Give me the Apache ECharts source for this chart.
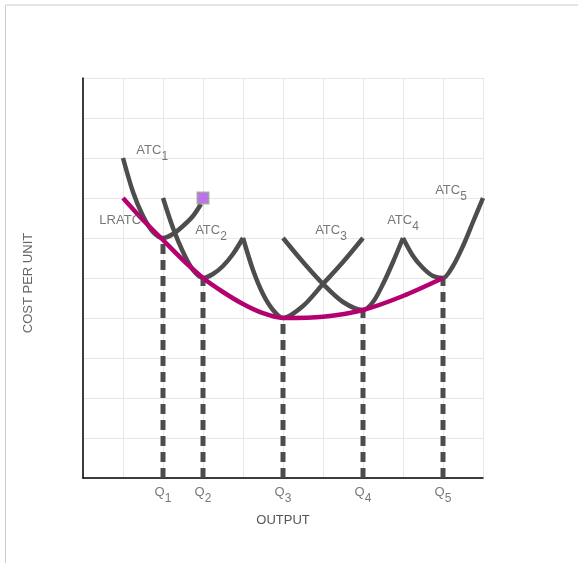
<!DOCTYPE html>
<html><head><meta charset="utf-8">
<script src="https://cdn.jsdelivr.net/npm/echarts@6/dist/echarts.min.js"></script>
<style>html,body{margin:0;padding:0;background:#fff}#c{width:578px;height:563px}</style>
</head><body><div id="c"></div>
<script>
// curves (x: output grid units, y: cost grid units)
const atc1 = [[1,8],[1.25,7.15],[1.5,6.55],[1.75,6.15],[2,6],[2.25,6.1],[2.5,6.3],[2.75,6.55],[2.95,6.85]];
const atc2 = [[2,7],[2.25,6.25],[2.5,5.65],[2.75,5.2],[3,5],[3.25,5.1],[3.5,5.3],[3.75,5.6],[4,6]];
const atc3 = [[4,6],[4.25,5.2],[4.5,4.6],[4.75,4.2],[5,4],[5.5,4.3],[6,4.85],[6.5,5.4],[7,6]];
const atc4 = [[5,6],[5.5,5.4],[6,4.85],[6.5,4.4],[7,4.2],[7.25,4.4],[7.5,4.85],[7.75,5.4],[8,6]];
const atc5 = [[8,6],[8.25,5.55],[8.5,5.25],[8.75,5.05],[9,5],[9.25,5.3],[9.5,5.8],[9.75,6.4],[10,7]];
const lratc = [[1,7],[1.5,6.45],[2,5.95],[2.5,5.45],[3,5],[3.5,4.65],[4,4.35],[4.5,4.12],[5,4],[6,4.03],[7,4.2],[8,4.55],[9,5]];
const qX = [2,3,5,7,9];
const qY = [6,5,4,4.2,5];
const qLabels = ['1','2','3','4','5'];
const marker = [[3,7]];
// curve labels: [x, y, name, subscript]
const curveLabels = [[1.73,8.2,'ATC','1'],[0.93,6.45,'LRATC',''],[3.2,6.2,'ATC','2'],[6.2,6.2,'ATC','3'],[8,6.45,'ATC','4'],[9.2,7.2,'ATC','5']];

const chart = echarts.init(document.getElementById('c'));
const txtRich = {
  a: {fontSize: 13, color: '#555', fontFamily: 'Arial'},
  s: {fontSize: 12, color: '#555', fontFamily: 'Arial', padding: [14, 0, 0, 0]}
};
const curve = d => ({type: 'line', data: d, smooth: 0.3, symbol: 'none', lineStyle: {color: '#4d4d4d', width: 4.5}, z: 3});
const dashes = qX.map((x, i) => ({
  type: 'line', data: [[x, 0], [x, qY[i]]], symbol: 'none', z: 2,
  lineStyle: {color: '#4d4d4d', width: 5, type: [10, 6]}
}));

chart.setOption({
  animation: false,
  grid: {left: 83, top: 78, width: 400, height: 400},
  xAxis: {type: 'value', min: 0, max: 10, interval: 1,
    axisLine: {lineStyle: {color: '#000', width: 1.5}}, axisTick: {show: false}, axisLabel: {show: false},
    splitLine: {lineStyle: {color: '#e6e6e6'}}},
  yAxis: {type: 'value', min: 0, max: 10, interval: 1,
    axisLine: {show: true, lineStyle: {color: '#000', width: 1.5}}, axisTick: {show: false}, axisLabel: {show: false},
    splitLine: {lineStyle: {color: '#e6e6e6'}}},
  graphic: [
    {type: 'line', shape: {x1: 6, y1: 5, x2: 578, y2: 5}, style: {stroke: '#ccc', lineWidth: 1}},
    {type: 'line', shape: {x1: 5.5, y1: 5, x2: 5.5, y2: 563}, style: {stroke: '#ccc', lineWidth: 1}},
    {type: 'text', x: 28, y: 283, rotation: Math.PI / 2, style: {text: 'COST PER UNIT', fill: '#666', font: '13px Arial', align: 'center', verticalAlign: 'middle'}},
    {type: 'text', x: 283, y: 520, style: {text: 'OUTPUT', fill: '#555', font: '13px Arial', align: 'center', verticalAlign: 'middle'}}
  ],
  series: [
    ...dashes,
    curve(atc1), curve(atc2), curve(atc3), curve(atc4), curve(atc5),
    {type: 'line', data: lratc, smooth: 0.3, symbol: 'none', lineStyle: {color: '#b5006f', width: 4.5}, z: 4},
    {type: 'scatter', data: marker, symbol: 'rect', symbolSize: 11, z: 5,
      itemStyle: {color: '#b04ef0', borderColor: '#999', borderWidth: 2}},
    {type: 'scatter', clip: false, symbolSize: 0, z: 6,
      data: curveLabels.map(l => ({value: [l[0], l[1]], label: {formatter: l[3] ? '{a|' + l[2] + '}{s|' + l[3] + '}' : '{a|' + l[2] + '}'}})),
      label: {show: true, position: 'inside', rich: txtRich}},
    {type: 'scatter', clip: false, symbolSize: 0, z: 6,
      data: qX.map((x, i) => ({value: [x, -0.35], label: {formatter: '{a|Q}{s|' + qLabels[i] + '}'}})),
      label: {show: true, position: 'inside', rich: txtRich}}
  ]
});
</script></body></html>
